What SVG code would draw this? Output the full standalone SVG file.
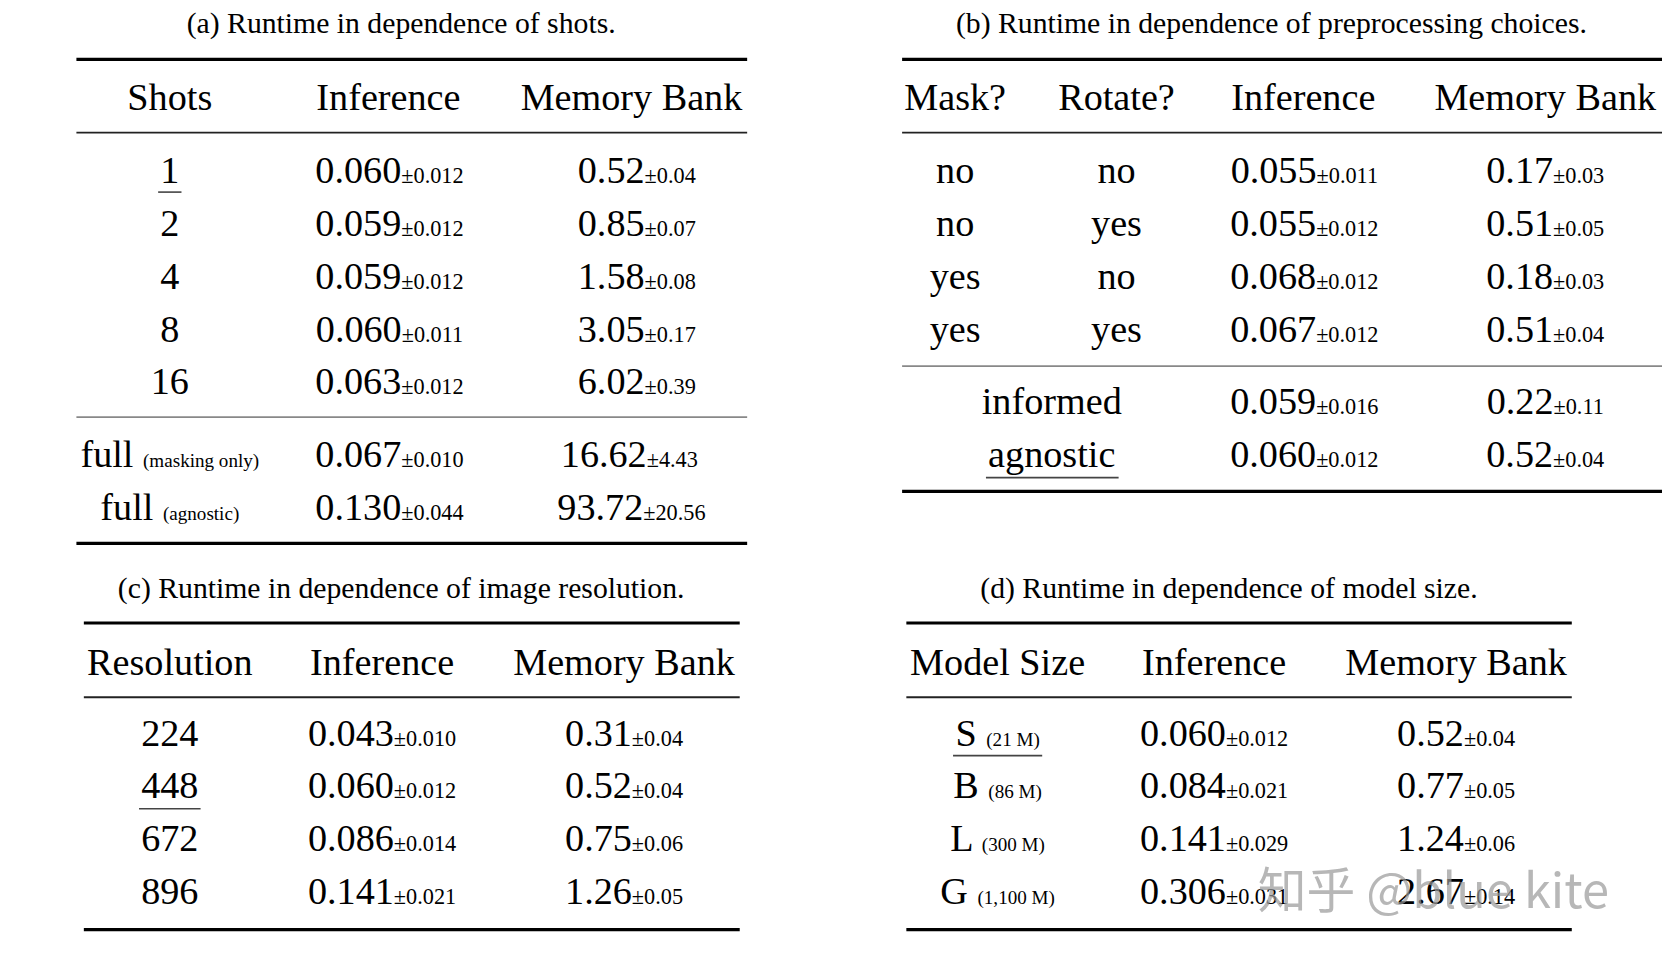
<svg xmlns="http://www.w3.org/2000/svg" width="1662" height="955" viewBox="0 0 1662 955">
<style>
text{font-family:"Liberation Serif","Times New Roman",serif;fill:#000}
.cap{font-size:28px;text-anchor:middle}
.h{font-size:36px;text-anchor:middle}
.v{font-size:36px;text-anchor:middle}
.s{font-size:21px}
.sm{font-size:18px}
.thick{stroke:#000;stroke-width:3}
.thin{stroke:#222;stroke-width:1.8}
.lt{stroke:#888;stroke-width:1.5}
.ul{stroke:#444;stroke-width:1.5}
.wm{font-family:"Noto Sans CJK SC","Noto Sans",sans-serif;font-size:46px;fill:#999;fill-opacity:0.7}
</style>
<rect width="1662" height="955" fill="#fff"/>
<g transform="scale(1.0613)">
<g id="table-a">
<text class="cap" x="378" y="31">(a) Runtime in dependence of shots.</text>
<line class="thick" x1="72" y1="56" x2="704" y2="56"/>
<text class="h" x="160" y="104">Shots</text><text class="h" x="366" y="104">Inference</text><text class="h" x="595" y="104">Memory Bank</text>
<line class="thin" x1="72" y1="125" x2="704" y2="125"/>
<text class="v" x="160" y="172">1</text><line class="ul" x1="149" y1="181" x2="171" y2="181"/>
<text class="v" x="160" y="222">2</text><text class="v" x="160" y="272">4</text><text class="v" x="160" y="322">8</text><text class="v" x="160" y="371">16</text>
<text class="v" x="367" y="172">0.060<tspan class="s">±0.012</tspan></text>
<text class="v" x="367" y="222">0.059<tspan class="s">±0.012</tspan></text>
<text class="v" x="367" y="272">0.059<tspan class="s">±0.012</tspan></text>
<text class="v" x="367" y="322">0.060<tspan class="s">±0.011</tspan></text>
<text class="v" x="367" y="371">0.063<tspan class="s">±0.012</tspan></text>
<text class="v" x="600" y="172">0.52<tspan class="s">±0.04</tspan></text>
<text class="v" x="600" y="222">0.85<tspan class="s">±0.07</tspan></text>
<text class="v" x="600" y="272">1.58<tspan class="s">±0.08</tspan></text>
<text class="v" x="600" y="322">3.05<tspan class="s">±0.17</tspan></text>
<text class="v" x="600" y="371">6.02<tspan class="s">±0.39</tspan></text>
<line class="lt" x1="72" y1="393" x2="704" y2="393"/>
<text class="v" x="160" y="440">full <tspan class="sm">(masking only)</tspan></text>
<text class="v" x="160" y="490">full <tspan class="sm">(agnostic)</tspan></text>
<text class="v" x="367" y="440">0.067<tspan class="s">±0.010</tspan></text>
<text class="v" x="367" y="490">0.130<tspan class="s">±0.044</tspan></text>
<text class="v" x="593" y="440">16.62<tspan class="s">±4.43</tspan></text>
<text class="v" x="595" y="490">93.72<tspan class="s">±20.56</tspan></text>
<line class="thick" x1="72" y1="512" x2="704" y2="512"/>
</g>
<g id="table-b">
<text class="cap" x="1198" y="31">(b) Runtime in dependence of preprocessing choices.</text>
<line class="thick" x1="850" y1="56" x2="1566" y2="56"/>
<text class="h" x="900" y="104">Mask?</text><text class="h" x="1052" y="104">Rotate?</text><text class="h" x="1228" y="104">Inference</text><text class="h" x="1456" y="104">Memory Bank</text>
<line class="thin" x1="850" y1="125" x2="1566" y2="125"/>
<text class="v" x="900" y="172">no</text><text class="v" x="1052" y="172">no</text>
<text class="v" x="900" y="222">no</text><text class="v" x="1052" y="222">yes</text>
<text class="v" x="900" y="272">yes</text><text class="v" x="1052" y="272">no</text>
<text class="v" x="900" y="322">yes</text><text class="v" x="1052" y="322">yes</text>
<text class="v" x="1229" y="172">0.055<tspan class="s">±0.011</tspan></text>
<text class="v" x="1229" y="222">0.055<tspan class="s">±0.012</tspan></text>
<text class="v" x="1229" y="272">0.068<tspan class="s">±0.012</tspan></text>
<text class="v" x="1229" y="322">0.067<tspan class="s">±0.012</tspan></text>
<text class="v" x="1456" y="172">0.17<tspan class="s">±0.03</tspan></text>
<text class="v" x="1456" y="222">0.51<tspan class="s">±0.05</tspan></text>
<text class="v" x="1456" y="272">0.18<tspan class="s">±0.03</tspan></text>
<text class="v" x="1456" y="322">0.51<tspan class="s">±0.04</tspan></text>
<line class="lt" x1="850" y1="345" x2="1566" y2="345"/>
<text class="v" x="991" y="390">informed</text>
<text class="v" x="991" y="440">agnostic</text><line class="ul" x1="929" y1="450" x2="1054" y2="450"/>
<text class="v" x="1229" y="390">0.059<tspan class="s">±0.016</tspan></text>
<text class="v" x="1229" y="440">0.060<tspan class="s">±0.012</tspan></text>
<text class="v" x="1456" y="390">0.22<tspan class="s">±0.11</tspan></text>
<text class="v" x="1456" y="440">0.52<tspan class="s">±0.04</tspan></text>
<line class="thick" x1="850" y1="463" x2="1566" y2="463"/>
</g>
<g id="table-c">
<text class="cap" x="378" y="563">(c) Runtime in dependence of image resolution.</text>
<line class="thick" x1="79" y1="587" x2="697" y2="587"/>
<text class="h" x="160" y="636">Resolution</text><text class="h" x="360" y="636">Inference</text><text class="h" x="588" y="636">Memory Bank</text>
<line class="thin" x1="79" y1="657" x2="697" y2="657"/>
<text class="v" x="160" y="703">224</text>
<text class="v" x="160" y="752">448</text><line class="ul" x1="131" y1="762" x2="189" y2="762"/>
<text class="v" x="160" y="802">672</text><text class="v" x="160" y="852">896</text>
<text class="v" x="360" y="703">0.043<tspan class="s">±0.010</tspan></text>
<text class="v" x="360" y="752">0.060<tspan class="s">±0.012</tspan></text>
<text class="v" x="360" y="802">0.086<tspan class="s">±0.014</tspan></text>
<text class="v" x="360" y="852">0.141<tspan class="s">±0.021</tspan></text>
<text class="v" x="588" y="703">0.31<tspan class="s">±0.04</tspan></text>
<text class="v" x="588" y="752">0.52<tspan class="s">±0.04</tspan></text>
<text class="v" x="588" y="802">0.75<tspan class="s">±0.06</tspan></text>
<text class="v" x="588" y="852">1.26<tspan class="s">±0.05</tspan></text>
<line class="thick" x1="79" y1="876" x2="697" y2="876"/>
</g>
<g id="table-d">
<text class="cap" x="1158" y="563">(d) Runtime in dependence of model size.</text>
<line class="thick" x1="854" y1="587" x2="1481" y2="587"/>
<text class="h" x="940" y="636">Model Size</text><text class="h" x="1144" y="636">Inference</text><text class="h" x="1372" y="636">Memory Bank</text>
<line class="thin" x1="854" y1="657" x2="1481" y2="657"/>
<text class="v" x="940" y="703">S <tspan class="sm">(21 M)</tspan></text><line class="ul" x1="898" y1="712" x2="982" y2="712"/>
<text class="v" x="940" y="752">B <tspan class="sm">(86 M)</tspan></text>
<text class="v" x="940" y="802">L <tspan class="sm">(300 M)</tspan></text>
<text class="v" x="940" y="852">G <tspan class="sm">(1,100 M)</tspan></text>
<text class="v" x="1144" y="703">0.060<tspan class="s">±0.012</tspan></text>
<text class="v" x="1144" y="752">0.084<tspan class="s">±0.021</tspan></text>
<text class="v" x="1144" y="802">0.141<tspan class="s">±0.029</tspan></text>
<text class="v" x="1144" y="852">0.306<tspan class="s">±0.031</tspan></text>
<text class="v" x="1372" y="703">0.52<tspan class="s">±0.04</tspan></text>
<text class="v" x="1372" y="752">0.77<tspan class="s">±0.05</tspan></text>
<text class="v" x="1372" y="802">1.24<tspan class="s">±0.06</tspan></text>
<text class="v" x="1372" y="852">2.67<tspan class="s">±0.14</tspan></text>
<line class="thick" x1="854" y1="876" x2="1481" y2="876"/>
</g>
<text class="wm" x="1185" y="856">知乎 @blue kite</text>
</g>
</svg>
